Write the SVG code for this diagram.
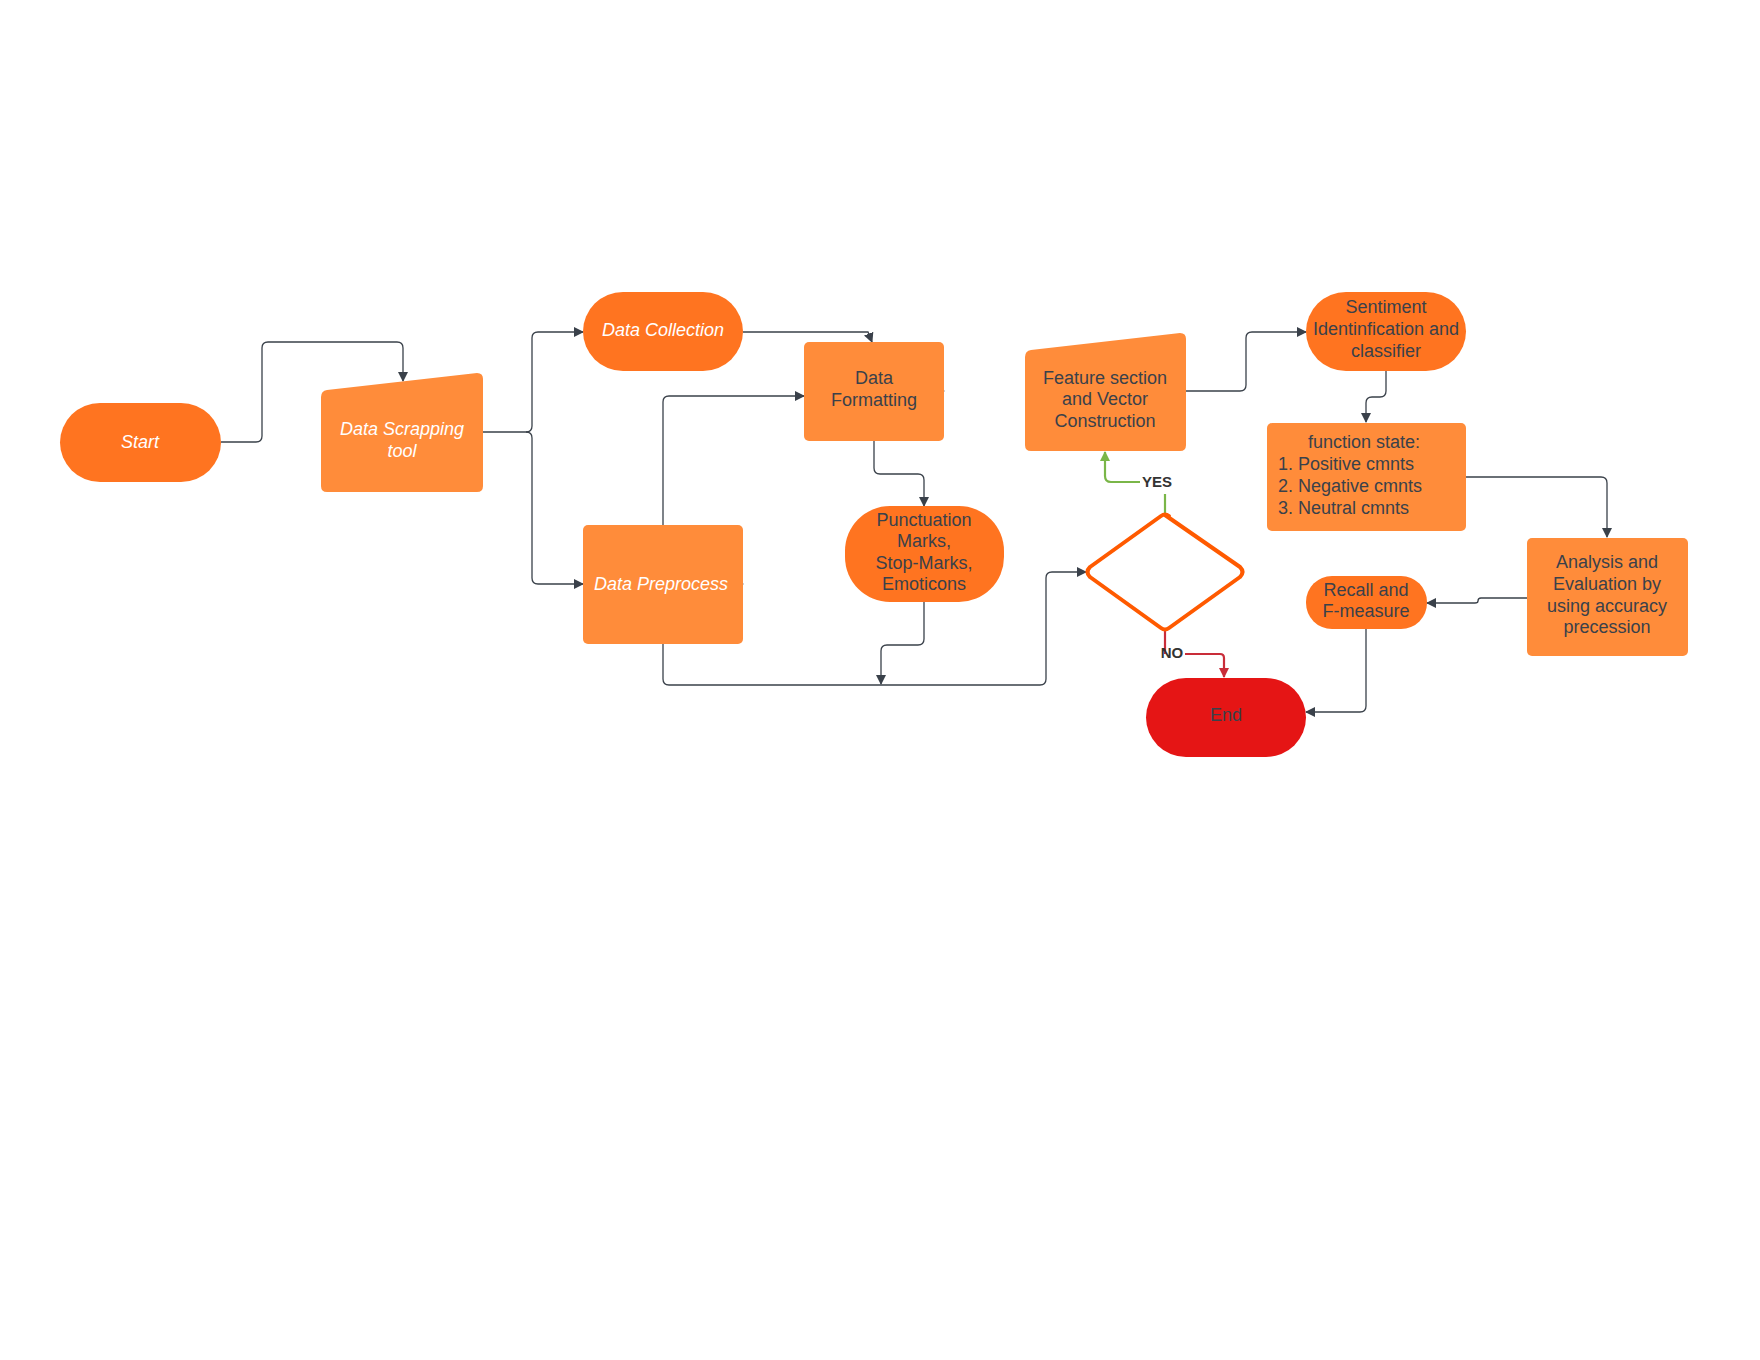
<svg xmlns="http://www.w3.org/2000/svg" width="1760" height="1360" viewBox="0 0 1760 1360">
<defs>
<marker id="ah" markerWidth="10" markerHeight="10" refX="9" refY="5" orient="auto" markerUnits="userSpaceOnUse" viewBox="0 0 10 10"><path d="M0,0 L10,5 L0,10 z" fill="#3a414a"/></marker>
<marker id="ahg" markerWidth="10" markerHeight="12" refX="9" refY="5" orient="auto" markerUnits="userSpaceOnUse" viewBox="0 0 10 10"><path d="M0,0 L10,5 L0,10 z" fill="#7ab648"/></marker>
<marker id="ahr" markerWidth="10" markerHeight="12" refX="9" refY="5" orient="auto" markerUnits="userSpaceOnUse" viewBox="0 0 10 10"><path d="M0,0 L10,5 L0,10 z" fill="#c92d39"/></marker>
<style>
.dk{fill:#ff7420}.lt{fill:#ff8c3a}
text{font-family:"Liberation Sans",Arial,sans-serif;font-size:18px;text-anchor:middle}
.w{fill:#fff;font-style:italic}.d{fill:#3a414a}
.c path{fill:none;stroke:#3a414a;stroke-width:1.3}
</style>
</defs>
<rect width="1760" height="1360" fill="#fff"/>
<g class="c">
<path d="M221,442 H256 Q262,442 262,436 V348 Q262,342 268,342 H397 Q403,342 403,348 V381" marker-end="url(#ah)"/>
<path d="M483,432 H526 Q532,432 532,426 V338 Q532,332 538,332 H583" marker-end="url(#ah)"/>
<path d="M526,432 Q532,432 532,438 V578 Q532,584 538,584 H583" marker-end="url(#ah)"/>
<path d="M743,332 H868 L872,342" marker-end="url(#ah)"/>
<path d="M663,525 V402 Q663,396 669,396 H804" marker-end="url(#ah)"/>
<path d="M728,584 H743" marker-end="url(#ah)"/>
<path d="M929,391 H944" marker-end="url(#ah)"/>
<path d="M874,441 V468 Q874,474 880,474 H918 Q924,474 924,480 V506" marker-end="url(#ah)"/>
<path d="M924,602 V639 Q924,645 918,645 H887 Q881,645 881,651 V684" marker-end="url(#ah)"/>
<path d="M663,644 V679 Q663,685 669,685 H1040 Q1046,685 1046,679 V578 Q1046,572 1052,572 H1086" marker-end="url(#ah)"/>
<path d="M1186,391 H1240 Q1246,391 1246,385 V338 Q1246,332 1252,332 H1306" marker-end="url(#ah)"/>
<path d="M1386,371 V391 Q1386,397 1380,397 H1372 Q1366,397 1366,403 V422" marker-end="url(#ah)"/>
<path d="M1466,477 H1601 Q1607,477 1607,483 V537" marker-end="url(#ah)"/>
<path d="M1527,598 H1481 Q1478,598 1478,601 Q1478,603 1475,603 H1427" marker-end="url(#ah)"/>
<path d="M1366,629 V706 Q1366,712 1360,712 H1306" marker-end="url(#ah)"/>
<path d="M1165,513 V494 M1140,482 H1111 Q1105,482 1105,476 V452" style="stroke:#7ab648;stroke-width:2.2" marker-end="url(#ahg)"/>
<path d="M1165,631 V654 M1185,654 H1220 Q1224,654 1224,658 V677" style="stroke:#c92d39;stroke-width:2.2" marker-end="url(#ahr)"/>
<text x="1157" y="487" style="font-size:15px;font-weight:bold;fill:#333">YES</text>
<text x="1172" y="658" style="font-size:15px;font-weight:bold;fill:#333">NO</text>
</g>
<g id="start"><rect class="dk" x="60" y="403" width="161" height="79" rx="40" ry="40"/><text class="w" x="140" y="448">Start</text></g>
<g id="scrap"><path class="lt" d="M321,397 Q321,391 327,390 L477,373 Q483,373 483,379 V486 Q483,492 477,492 H327 Q321,492 321,486 Z"/><text class="w" x="402" y="435">Data Scrapping</text><text class="w" x="402" y="457">tool</text></g>
<g id="collect"><rect class="dk" x="583" y="292" width="160" height="79" rx="40" ry="40"/><text class="w" x="663" y="336">Data Collection</text></g>
<g id="format"><rect class="lt" x="804" y="342" width="140" height="99" rx="5"/><text class="d" x="874" y="384">Data</text><text class="d" x="874" y="406">Formatting</text></g>
<g id="preprocess"><rect class="lt" x="583" y="525" width="160" height="119" rx="5"/><text class="w" x="661" y="590">Data Preprocess</text></g>
<g id="punct"><rect class="dk" x="845" y="506" width="159" height="96" rx="45" ry="45"/><text class="d" x="924" y="526">Punctuation</text><text class="d" x="924" y="547">Marks,</text><text class="d" x="924" y="569">Stop-Marks,</text><text class="d" x="924" y="590">Emoticons</text></g>
<g id="decision"><path d="M1165,515 L1240,567 Q1245,572 1240,577 L1169,628 Q1165,631 1161,628 L1090,577 Q1085,572 1090,567 L1161,516 Q1165,513 1169,516 Z" fill="#fff" stroke="#ff5a00" stroke-width="4" stroke-linejoin="round"/></g>
<g id="feature"><path class="lt" d="M1025,357 Q1025,351 1031,350 L1180,333 Q1186,333 1186,339 V445 Q1186,451 1180,451 H1031 Q1025,451 1025,445 Z"/><text class="d" x="1105" y="384">Feature section</text><text class="d" x="1105" y="405">and Vector</text><text class="d" x="1105" y="427">Construction</text></g>
<g id="sentiment"><rect class="dk" x="1306" y="292" width="160" height="79" rx="40" ry="40"/><text class="d" x="1386" y="313">Sentiment</text><text class="d" x="1386" y="335">Identinfication and</text><text class="d" x="1386" y="357">classifier</text></g>
<g id="fstate"><rect class="lt" x="1267" y="423" width="199" height="108" rx="5"/><text class="d" x="1364" y="448">function state:</text><text class="d" x="1278" y="470" style="text-anchor:start">1. Positive cmnts</text><text class="d" x="1278" y="492" style="text-anchor:start">2. Negative cmnts</text><text class="d" x="1278" y="514" style="text-anchor:start">3. Neutral cmnts</text></g>
<g id="analysis"><rect class="lt" x="1527" y="538" width="161" height="118" rx="5"/><text class="d" x="1607" y="568">Analysis and</text><text class="d" x="1607" y="590">Evaluation by</text><text class="d" x="1607" y="612">using accuracy</text><text class="d" x="1607" y="633">precession</text></g>
<g id="recall"><rect class="dk" x="1306" y="576" width="121" height="53" rx="26" ry="26"/><text class="d" x="1366" y="596">Recall and</text><text class="d" x="1366" y="617">F-measure</text></g>
<g id="end"><rect fill="#e51515" x="1146" y="678" width="160" height="79" rx="40" ry="40"/><text class="d" x="1226" y="721">End</text></g>
</svg>
